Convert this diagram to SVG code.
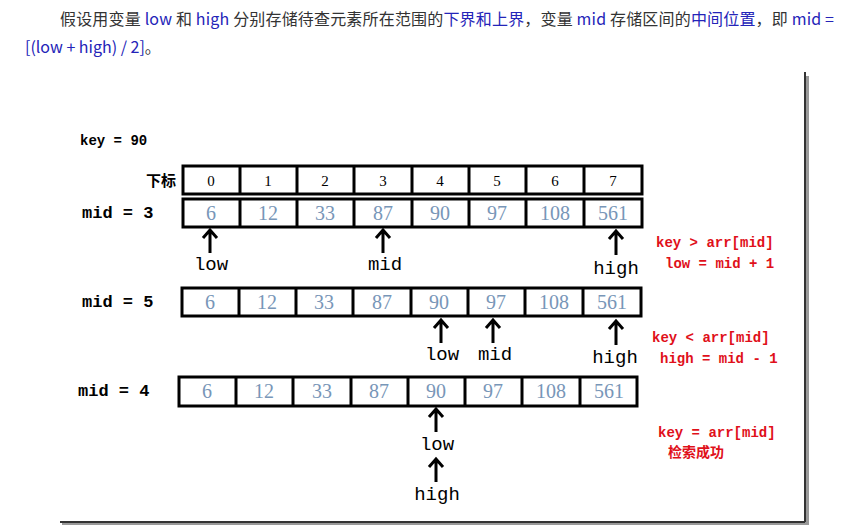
<svg xmlns="http://www.w3.org/2000/svg" width="852" height="532" viewBox="0 0 852 532">
<style>
.t{font-family:"Noto Sans CJK SC","Liberation Sans",sans-serif;font-size:16px;fill:#333}
.b{fill:#2424b8}
.c{fill:none;stroke:#000;stroke-width:3}
.i{font-family:"Liberation Serif",serif;font-size:15px;fill:#000;text-anchor:middle}
.v{font-family:"Liberation Serif",serif;font-size:20px;fill:#7896b8;text-anchor:middle}
.m{font-family:"Liberation Mono",monospace;font-weight:bold;font-size:17px;fill:#000}
.p{font-family:"Liberation Mono","Noto Sans CJK SC",monospace;font-size:19px;fill:#000;text-anchor:middle}
.r{font-family:"Liberation Mono","Noto Sans CJK SC",monospace;font-weight:bold;font-size:14px;fill:#e0101a}
.a{stroke:#000;stroke-width:3;fill:none}
</style>
<rect width="852" height="532" fill="#fff"/>
<text class="t" x="60" y="25" textLength="774" lengthAdjust="spacing">假设用变量 <tspan class="b">low</tspan> 和 <tspan class="b">high</tspan> 分别存储待查元素所在范围的<tspan class="b">下界和上界</tspan>，变量 <tspan class="b">mid</tspan> 存储区间的<tspan class="b">中间位置</tspan>，即 <tspan class="b">mid =</tspan></text>
<text class="t b" x="25" y="53">[(low + high) / 2]<tspan fill="#333">。</tspan></text>
<g id="frame">
<rect x="806" y="76" width="3" height="448" fill="#999"/>
<rect x="62" y="522" width="747" height="3" fill="#999"/>
<line x1="805" y1="72" x2="805" y2="522" stroke="#333" stroke-width="2"/>
<line x1="60" y1="522" x2="805" y2="522" stroke="#333" stroke-width="2"/>
</g>
<text class="m" x="80" y="145" style="font-size:14px">key = 90</text>
<g id="index">
<text x="146" y="186" style="font-family:'Noto Sans CJK SC',sans-serif;font-weight:bold;font-size:15px">下标</text>
<rect class="c" x="183" y="166" width="459" height="28"/>
<path class="c" d="M240 166V194M297 166V194M354 166V194M412 166V194M469 166V194M526 166V194M584 166V194"/>
<text class="i" x="211" y="186">0</text><text class="i" x="268" y="186">1</text><text class="i" x="325" y="186">2</text><text class="i" x="383" y="186">3</text><text class="i" x="440" y="186">4</text><text class="i" x="497" y="186">5</text><text class="i" x="555" y="186">6</text><text class="i" x="613" y="186">7</text>
</g>
<g id="row1">
<text class="m" x="82" y="218">mid = 3</text>
<rect class="c" x="183" y="199" width="459" height="28"/>
<path class="c" d="M240 199V227M297 199V227M354 199V227M412 199V227M469 199V227M526 199V227M584 199V227"/>
<text class="v" x="211" y="220">6</text><text class="v" x="268" y="220">12</text><text class="v" x="325" y="220">33</text><text class="v" x="383" y="220">87</text><text class="v" x="440" y="220">90</text><text class="v" x="497" y="220">97</text><text class="v" x="555" y="220">108</text><text class="v" x="613" y="220">561</text>
</g>
<g id="row2">
<text class="m" x="82" y="307">mid = 5</text>
<rect class="c" x="182" y="288" width="459" height="28"/>
<path class="c" d="M239 288V316M296 288V316M353 288V316M411 288V316M468 288V316M525 288V316M583 288V316"/>
<text class="v" x="210" y="309">6</text><text class="v" x="267" y="309">12</text><text class="v" x="324" y="309">33</text><text class="v" x="382" y="309">87</text><text class="v" x="439" y="309">90</text><text class="v" x="496" y="309">97</text><text class="v" x="554" y="309">108</text><text class="v" x="612" y="309">561</text>
</g>
<g id="row3">
<text class="m" x="78" y="396">mid = 4</text>
<rect class="c" x="179" y="377" width="458" height="29"/>
<path class="c" d="M236 377V406M293 377V406M351 377V406M408 377V406M465 377V406M522 377V406M580 377V406"/>
<text class="v" x="207" y="398">6</text><text class="v" x="264" y="398">12</text><text class="v" x="322" y="398">33</text><text class="v" x="379" y="398">87</text><text class="v" x="436" y="398">90</text><text class="v" x="493" y="398">97</text><text class="v" x="551" y="398">108</text><text class="v" x="609" y="398">561</text>
</g>
<g id="connectors">
<path class="a" d="M210 253V231M203 238L210 230L217 238"/>
<path class="a" d="M383 253V231M376 238L383 230L390 238"/>
<path class="a" d="M616 255V232M609 239L616 231L623 239"/>
<path class="a" d="M441 343V321M434 328L441 320L448 328"/>
<path class="a" d="M493 343V321M486 328L493 320L500 328"/>
<path class="a" d="M616 345V322M609 329L616 321L623 329"/>
<path class="a" d="M436 432V410M429 417L436 409L443 417"/>
<path class="a" d="M436 482V460M429 467L436 459L443 467"/>
</g>
<g id="labels">
<text class="p" x="211" y="270">low</text><text class="p" x="385" y="270">mid</text><text class="p" x="616" y="274">high</text>
<text class="p" x="442" y="360">low</text><text class="p" x="495" y="360">mid</text><text class="p" x="615" y="363">high</text>
<text class="p" x="437" y="450">low</text><text class="p" x="437" y="500">high</text>
<text class="r" x="656" y="247">key &gt; arr[mid]</text>
<text class="r" x="665" y="268">low = mid + 1</text>
<text class="r" x="652" y="342">key &lt; arr[mid]</text>
<text class="r" x="660" y="363">high = mid - 1</text>
<text class="r" x="658" y="437">key = arr[mid]</text>
<text class="r" x="668" y="457">检索成功</text>
</g>
</svg>
